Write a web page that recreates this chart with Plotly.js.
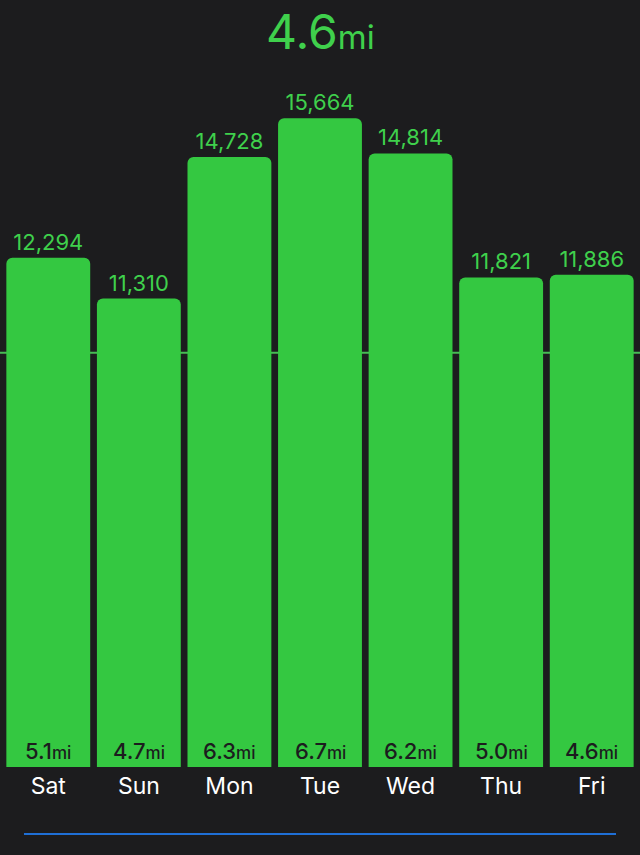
<!DOCTYPE html>
<html>
<head>
<meta charset="utf-8">
<script src="https://cdn.plot.ly/plotly-3.0.1.min.js"></script>
<style>
  html, body { margin: 0; padding: 0; background: #1c1c1e; }
  #chart { width: 640px; height: 855px; }
</style>
</head>
<body>
<div id="chart"></div>
<script>
const days = ["Sat", "Sun", "Mon", "Tue", "Wed", "Thu", "Fri"];
const steps = [12294, 11310, 14728, 15664, 14814, 11821, 11886];
const miles = ["5.1", "4.7", "6.3", "6.7", "6.2", "5.0", "4.6"];
const goalSteps = 10000;
const headline = "4.6";

const green = "#34c841";
const labelGreen = "#3fd04c";
const bg = "#1c1c1e";
const fontFam = "Inter, 'Noto Sans', sans-serif";

const trace = {
  type: "bar",
  x: days,
  y: steps,
  marker: { color: green, cornerradius: 6 },
  text: steps.map(v => v.toLocaleString("en-US")),
  textposition: "outside",
  textfont: { family: fontFam, size: 22, color: labelGreen },
  cliponaxis: false,
  hoverinfo: "none"
};

const annotations = days.map((d, i) => ({
  x: d, y: 0, xref: "x", yref: "y",
  yanchor: "bottom", yshift: 1,
  showarrow: false,
  text: miles[i] + "<span style='font-size:17px'>mi</span>",
  font: { family: fontFam, size: 22, color: bg, weight: 500 }
}));

annotations.push({
  x: 0.5, xref: "paper", y: 1.0845, yref: "paper",
  yanchor: "top", showarrow: false,
  text: headline + "<span style='font-size:33px'>mi</span>",
  font: { family: fontFam, size: 48, color: labelGreen }
});

const layout = {
  width: 640, height: 855,
  paper_bgcolor: bg, plot_bgcolor: bg,
  margin: { l: 3, r: 3, t: 60, b: 88 },
  bargap: 0.074,
  showlegend: false,
  xaxis: {
    showgrid: false, zeroline: false, showline: false,
    ticks: "", ticklabelstandoff: 3,
    tickfont: { family: fontFam, size: 23, color: "#ffffff" },
    fixedrange: true
  },
  yaxis: {
    range: [0, 17070], visible: false, showgrid: false, zeroline: false,
    fixedrange: true
  },
  shapes: [
    {
      type: "line", layer: "below", xref: "paper", yref: "y",
      x0: -0.01, x1: 1.01, y0: goalSteps, y1: goalSteps,
      line: { color: "rgba(80,215,95,0.85)", width: 2 }
    },
    {
      type: "line", xref: "paper", yref: "paper",
      x0: 0.0331, x1: 0.9669, y0: -0.0948, y1: -0.0948,
      line: { color: "#1f6fd6", width: 2 }
    }
  ],
  annotations: annotations
};

Plotly.newPlot("chart", [trace], layout, { displayModeBar: false, staticPlot: true });
</script>
</body>
</html>
